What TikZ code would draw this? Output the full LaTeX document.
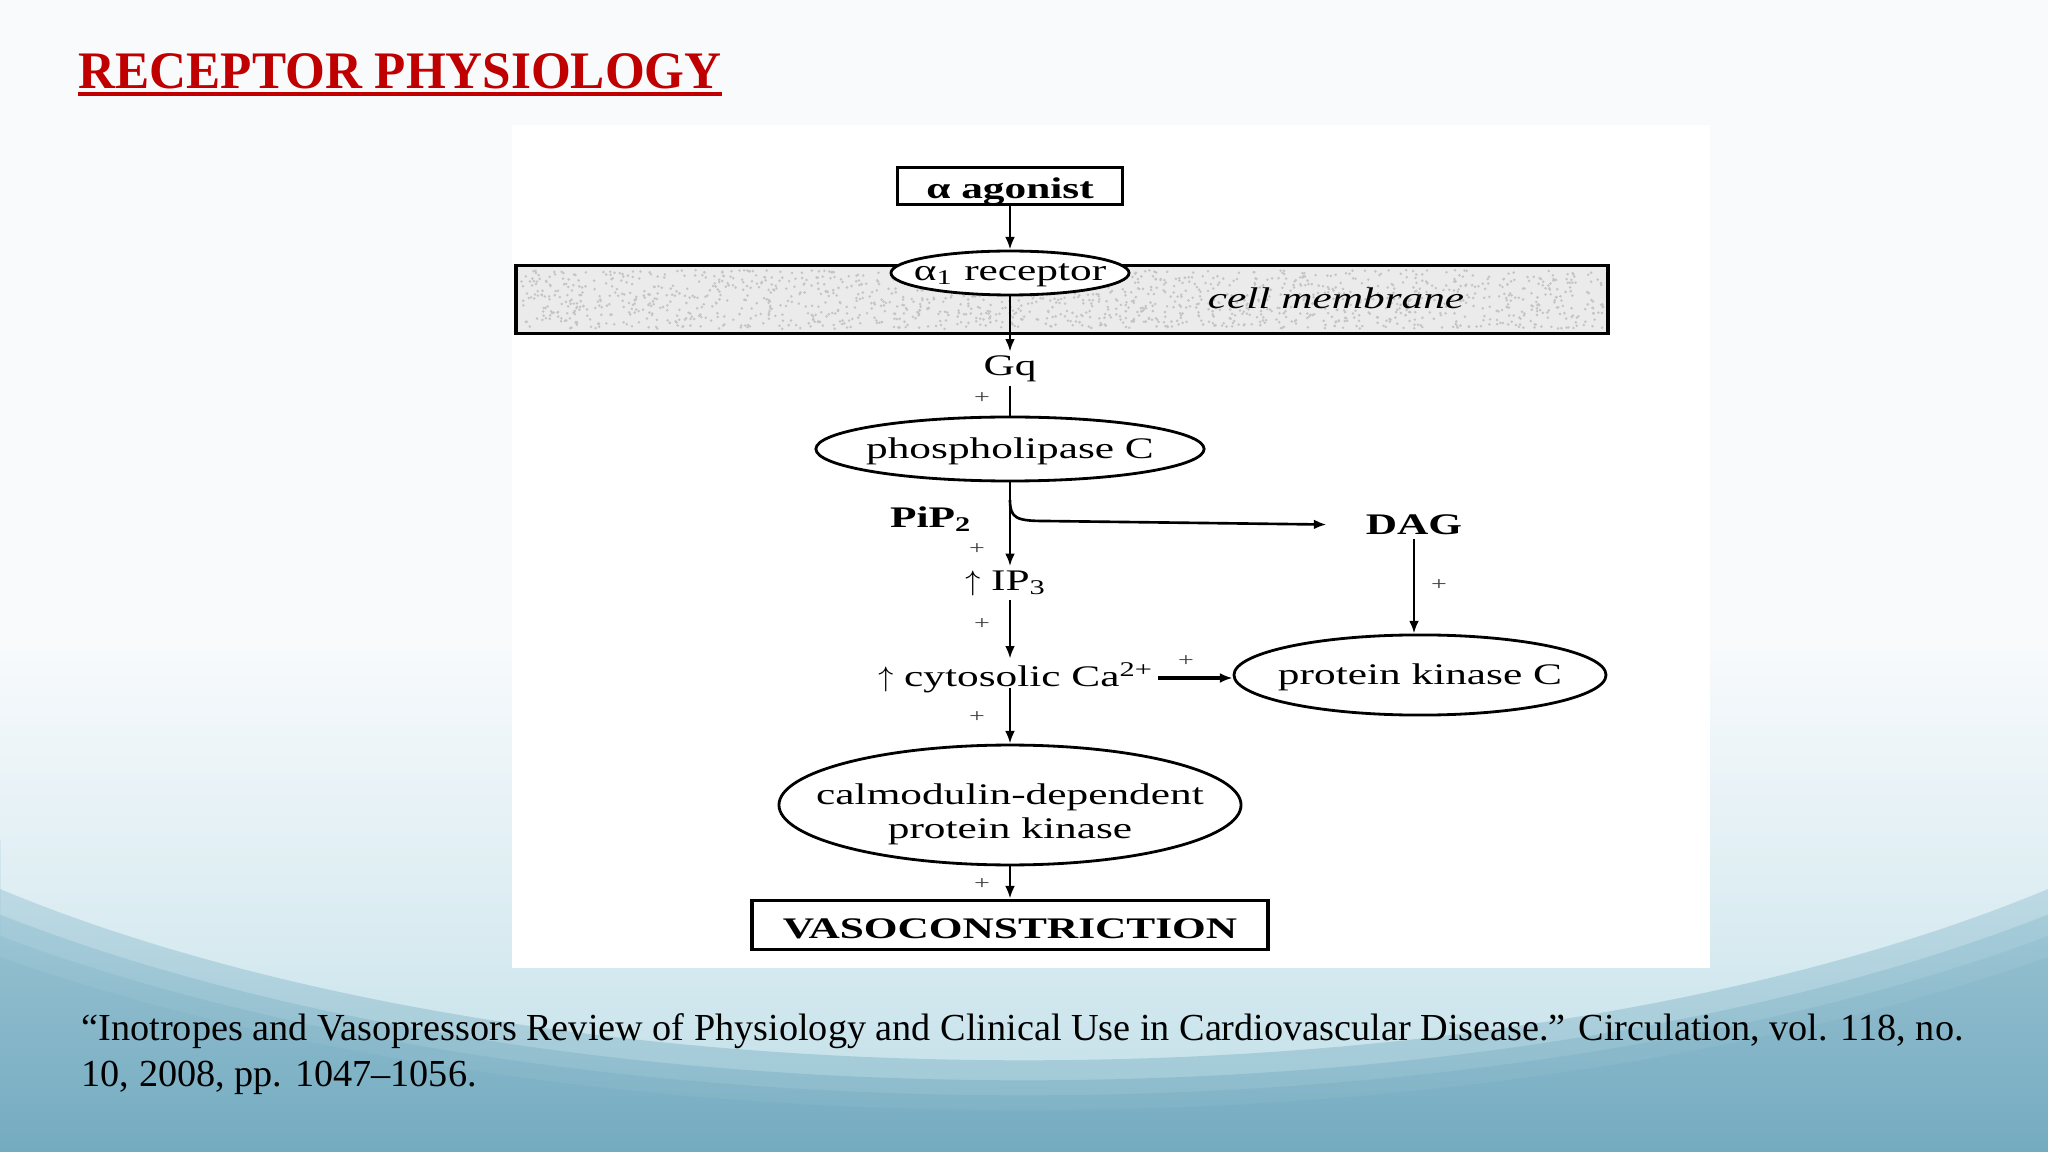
\documentclass[tikz,border=0pt]{standalone}
\usepackage{fontspec}
\setmainfont{Liberation Serif}
\newfontfamily\dg[FakeStretch=1.45]{Liberation Serif}
\newfontfamily\ttl[FakeStretch=0.97]{Liberation Serif}
\usetikzlibrary{shapes.geometric,arrows.meta}
\definecolor{titlered}{HTML}{C00000}
\definecolor{bgA}{HTML}{F8FAFC}
\definecolor{baseB}{HTML}{D8EBF1}
\definecolor{baseC}{HTML}{BCDCE6}
\definecolor{bgC}{HTML}{9AC6D5}
\definecolor{bgD}{HTML}{6FA7BD}
\definecolor{memfill}{HTML}{EBEBEB}
\definecolor{memdot}{HTML}{C4C4C4}
\pgfdeclareverticalshading{slidebg}{100bp}{color(0bp)=(baseC); color(25bp)=(baseC); color(34bp)=(baseB); color(47bp)=(bgA); color(100bp)=(bgA)}
\newcommand\zw[2][-1pt]{\makebox[0pt]{\raisebox{#1}[\height][\depth]{#2}}}
\newcommand\upar{$\uparrow$}
\begin{document}
\begin{tikzpicture}[x=0.01cm,y=-0.01cm,
  lbl/.style={font=\dg\fontsize{8.5pt}{9.7pt}\selectfont, inner sep=1pt},
  bl/.style={font=\dg\bfseries\fontsize{8.5pt}{9.7pt}\selectfont, inner sep=1pt},
  boxnode/.style={draw, line width=1.1pt, rectangle, inner sep=0pt, fill=white, font=\dg\bfseries\fontsize{8.5pt}{9.7pt}\selectfont},
  ellnode/.style={draw, line width=0.8pt, ellipse, inner sep=0pt, fill=white, font=\dg\fontsize{8.5pt}{9.7pt}\selectfont},
  flow/.style={line width=0.75pt, -{Latex[length=3.6pt,width=2.8pt]}},
  plainline/.style={line width=0.75pt},
  plus/.style={font=\dg\fontsize{5.5pt}{6pt}\selectfont, inner sep=0pt, text=black!75},
  cite/.style={anchor=base west, inner sep=0pt, font=\fontsize{10.87pt}{13pt}\selectfont}]
\useasboundingbox (0,0) rectangle (2048,1152);
% slide background
\shade[shading=slidebg] (0,0) rectangle (2048,1152);
\foreach \rx/\ry in {13.8/5.2, 14.2/5.4, 14.6/5.55, 15.0/5.7}{
  \begin{scope}[even odd rule]
    \clip (0,0) rectangle (2048,1152) (1024,540) ellipse (\rx cm and \ry cm);
    \shade[top color=bgC, bottom color=bgD, opacity=0.45] (0,840) rectangle (2048,1152);
  \end{scope}
}
% title
\node[anchor=base west, inner sep=0pt, text=titlered, font=\ttl\bfseries\fontsize{15pt}{18pt}\selectfont] (title) at (78,89) {RECEPTOR PHYSIOLOGY};
\draw[titlered, line width=1.1pt] ([yshift=-1.5pt]title.base west) -- ([yshift=-1.5pt]title.base east);
% diagram panel
\fill[white] (512,125) rectangle (1710,968);
% membrane
\node[fill=memfill, minimum width=310.1pt, minimum height=19.06pt, inner sep=0pt] (mem) at (1062,299.5) {};
\pgfmathsetseed{3}
\foreach \i in {1,...,1500}{
  \pgfmathsetmacro\px{521+1082*rnd}
  \pgfmathsetmacro\py{270+59*rnd}
  \fill[memdot] (\px,\py) circle (0.4pt);
}
\draw[line width=1pt] (mem.north west) rectangle (mem.south east);
\node[lbl, font=\dg\itshape\fontsize{8.5pt}{9.7pt}\selectfont] (cm) at (1336,298) {cell membrane};
% nodes
\node[boxnode, minimum width=64pt, minimum height=10.5pt] (ago) at (1010,186) {\zw[-1.5pt]{α agonist}};
\node[ellnode, minimum width=67.7pt, minimum height=12.5pt] (rec) at (1010,273) {\zw[-0.6pt]{α\textsubscript{1} receptor}};
\node[lbl] (gq) at (1010,369) {Gq};
\node[ellnode, minimum width=110.4pt, minimum height=18.2pt] (plc) at (1010,449) {\zw[-0.6pt]{phospholipase C}};
\node[bl] (pip) at (931,519) {PiP\textsubscript{2}};
\node[bl] (dag) at (1414,525) {DAG};
\node[lbl] (ip3) at (1006,583) {\upar\ IP\textsubscript{3}};
\node[lbl] (ca) at (1016,678) {\upar\ cytosolic Ca\textsuperscript{2+}};
\node[ellnode, minimum width=105.8pt, minimum height=22.8pt] (pkc) at (1420,675) {\zw[-0.6pt]{protein kinase C}};
\node[ellnode, minimum width=131.4pt, minimum height=34.1pt] (cam) at (1010,805) {\zw[-2.8pt]{\begin{tabular}{@{}c@{}}calmodulin-dependent\\protein kinase\end{tabular}}};
\node[boxnode, minimum width=146.5pt, minimum height=13.9pt] (vaso) at (1010,925) {\zw[-1pt]{VASOCONSTRICTION}};
% plus signs
\node[plus] (p1) at (982,398) {+};
\node[plus] (p2) at (977,549) {+};
\node[plus] (p3) at (982,624) {+};
\node[plus] (p4) at (1186,661) {+};
\node[plus] (p5) at (1439,585) {+};
\node[plus] (p6) at (977,717) {+};
\node[plus] (p7) at (982,884) {+};
% connectors
\draw[flow] (ago.south) -- (rec.north);
\draw[flow] (rec.south) -- (gq.north);
\draw[plainline] (gq.south) -- (plc.north);
\draw[flow] (plc.south) -- (plc.south |- ip3.north);
\coordinate (br) at (1010,500);
\draw[flow, shorten >=10pt] (br) .. controls (1010,518) and (1016,521) .. (1045,521) -- (dag.west);
\draw[flow] (plc.south |- ip3.south) -- (plc.south |- ca.north);
\coordinate (cadown) at (1010,688);
\draw[flow] (cadown) -- (cam.north);
\draw[flow, line width=0.9pt] (ca.east) -- (ca.east -| pkc.west);
\draw[flow] (dag.south) -- (dag.south |- pkc.north);
\draw[flow] (cam.south) -- (vaso.north);
% citation
\node[cite] (c1) at (81,1040) {“Inotropes and Vasopressors Review of Physiology and Clinical Use in Cardiovascular Disease.” Circulation, vol. 118, no.};
\node[cite] (c2) at (81,1086) {10, 2008, pp. 1047–1056.};
\end{tikzpicture}
\end{document}
